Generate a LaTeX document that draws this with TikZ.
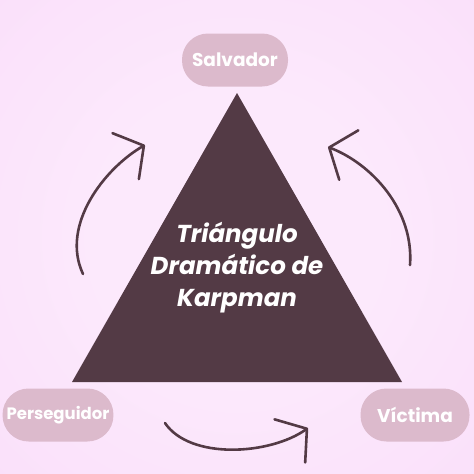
\documentclass[tikz,border=0pt]{standalone}
\usepackage{fontspec}
\setmainfont{Poppins}
\usetikzlibrary{arrows.meta}
\definecolor{bglight}{HTML}{FCE9FC}
\definecolor{bgdark}{HTML}{F7D1F7}
\definecolor{plum}{HTML}{533A45}
\definecolor{pill}{HTML}{DCBACC}
\pgfdeclareradialshading{bgglow}{\pgfpoint{0bp}{0bp}}{color(0bp)=(bglight); color(15bp)=(bglight); color(71bp)=(bgdark)}
\tikzset{
    role/.style = {rectangle, rounded corners=26pt, fill=pill, text=white, minimum height=53pt, inner xsep=4pt, font=\bfseries\fontsize{18.5}{18.5}\selectfont},
    title/.style = {align=center, text=white, font=\bfseries\itshape\fontsize{24.5}{32}\selectfont},
    cycle/.style = {line width=2.6pt, draw=plum, line cap=round, -{Straight Barb[length=21pt,width=53pt,round]}},
}

\begin{document}
\begin{tikzpicture}[x=1pt,y=-1pt]
\shade[shading=bgglow] (0,0) rectangle (474,474);
\useasboundingbox (0,0) rectangle (474,474);
% triangle
\coordinate (apex) at (237, 93);
\coordinate (bl) at (72, 382);
\coordinate (br) at (402, 382);
\fill[plum] (apex) -- (bl) -- (br) -- cycle;
\node[title] at (237, 268) (name) {Triángulo\\Dramático de\\Karpman};
%
\node[role, minimum width=106pt] at (235, 60) (salv) {Salvador};
\node[role, minimum width=110pt, font=\bfseries\fontsize{16.5}{16.5}\selectfont] at (58, 415) (pers) {Perseguidor};
\node[role, minimum width=109pt] at (415, 415) (vict) {Víctima};
%
\coordinate (l0) at (83, 274);
\coordinate (l1) at (145, 145);
\coordinate (r0) at (410, 265);
\coordinate (r1) at (328, 147);
\coordinate (b0) at (165, 423);
\coordinate (b1) at (308, 428);
\draw[cycle] (l0) .. controls (60, 225) and (105, 168) .. (l1);
\draw[cycle] (r0) .. controls (414, 210) and (372, 164) .. (r1);
\draw[cycle] (b0) .. controls (190, 460) and (270, 455) .. (b1);

\end{tikzpicture}
\end{document}
